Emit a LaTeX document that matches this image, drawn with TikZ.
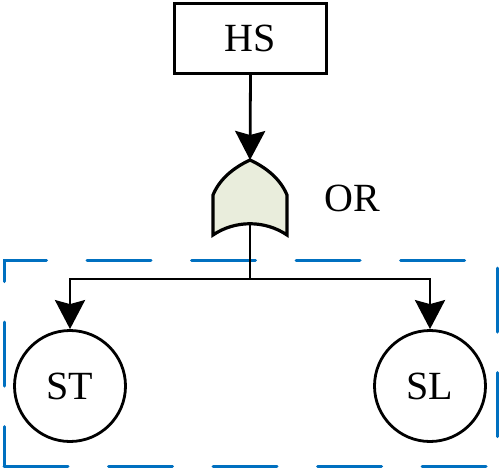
\documentclass[tikz,border=0pt]{standalone}
\usepackage{fontspec}
\setmainfont{Liberation Serif}
\usetikzlibrary{arrows.meta}
\definecolor{gatefill}{HTML}{E9EDDC}
\definecolor{dashblue}{HTML}{0070C0}
\begin{document}
\begin{tikzpicture}[x=1pt,y=-1pt,
  lbl/.style={font=\fontsize{40}{48}\selectfont},
  boxnode/.style={draw,line width=3pt,minimum width=152pt,minimum height=70pt,inner sep=0pt,lbl},
  evnode/.style={draw,circle,line width=2.8pt,minimum size=111pt,inner sep=0pt,lbl},
  conn/.style={line width=2.8pt},
  arr/.style={conn,-{Stealth[length=29pt,width=30pt,inset=4pt]}},
  gate/.style={draw,line width=3.2pt,fill=gatefill,line join=miter},
  region/.style={draw=dashblue,line width=3pt,line cap=round,dash pattern=on 64pt off 40.5pt}]
\useasboundingbox (0,0) rectangle (500,469);
% dashed region
\draw[region] (4,466) -- (497,466) -- (497,260) -- (4,260) -- cycle;
% top event
\node[boxnode] (hs) at (250.5,38.5) {HS};
% OR gate
\coordinate (gtop) at (250,160);
\coordinate (gbot) at (250,224);
\draw[gate] (gtop) .. controls (235,167) and (220,178) .. (213,195) -- (213,235)
  .. controls (235,220) and (265,220) .. (287,235) -- (287,195)
  .. controls (280,178) and (265,167) .. (gtop) -- cycle;
\node[lbl] (or) at (352,198) {OR};
% basic events
\node[evnode] (st) at (70,386) {ST};
\node[evnode] (sl) at (430,386) {SL};
% connectors
\coordinate (j) at (250,279);
\draw[arr] (hs.south) -- (gtop);
\draw[conn] (gbot) -- (j);
\draw[arr] (j) -| (st.north);
\draw[arr] (j) -| (sl.north);
\end{tikzpicture}
\end{document}
